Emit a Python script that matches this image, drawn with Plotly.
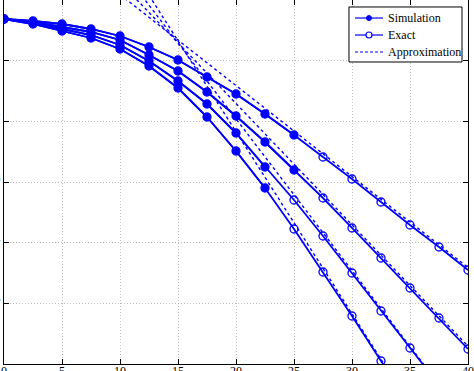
import plotly.graph_objects as go

# SNR grid (dB)
snr = [0, 2.5, 5, 7.5, 10, 12.5, 15, 17.5, 20, 22.5, 25, 27.5, 30, 32.5, 35, 37.5, 40]

# Exact BER curves (open circles)
exact_a = [0.4861, 0.4506, 0.4022, 0.3327, 0.2550, 0.1680, 0.1026, 0.05380, 0.02822, 0.01321,
           0.005954, 0.002584, 0.001121, 0.0004682, 0.0001956, 0.00008488, 0.00003545]
exact_b = [0.4861, 0.4339, 0.3589, 0.2969, 0.2191, 0.1241, 0.06757, 0.03045, 0.01225, 0.004565,
           0.001577, 0.0005449, 0.0001746, 0.00005590, 0.00001791, 0.000005734, 0.000001768]
exact_c = [0.4861, 0.4177, 0.3327, 0.2649, 0.1812, 0.09876, 0.04623, 0.01931, 0.006424, 0.001768,
           0.0005049, 0.0001288, 0.00003164, 0.000007480, 0.000001837, 4.510e-7]
exact_d = [0.4861, 0.4022, 0.3083, 0.2364, 0.1557, 0.08168, 0.03543, 0.01179, 0.003244, 0.0007963,
           0.0001681, 0.00003285, 0.000006187, 0.000001121, 2.111e-7]

# Simulation BER (filled dots), read where drawn
sim_a = [0.4861, 0.4506, 0.4022, 0.3327, 0.2550, 0.1680, 0.1026, 0.05380, 0.02822, 0.01321, 0.005954]
sim_b = [0.4861, 0.4339, 0.3589, 0.2969, 0.2191, 0.1241, 0.06757, 0.03045, 0.01225, 0.004565, 0.001577]
sim_c = [0.4861, 0.4177, 0.3327, 0.2649, 0.1812, 0.09876, 0.04623, 0.01931, 0.006424, 0.001768]
sim_d = [0.4861, 0.4022, 0.3083, 0.2364, 0.1557, 0.08168, 0.03543, 0.01179, 0.003244, 0.0007963]

# High-SNR approximation (dashed), from 10 dB on
snr_apx = [10, 12.5, 15, 17.5, 20, 22.5, 25, 27.5, 30, 32.5, 35, 37.5, 40]
apx_a = [1.230, 0.5188, 0.2188, 0.09226, 0.03890, 0.01641, 0.006918, 0.002917, 0.001230,
         5.188e-4, 2.188e-4, 9.226e-5, 3.890e-5]
apx_b = [1.968, 0.6223, 0.1968, 0.06223, 0.01968, 0.006223, 0.001968, 6.223e-4, 1.968e-4,
         6.223e-5, 1.968e-5, 6.223e-6, 1.968e-6]
apx_c = [3.467, 0.8222, 0.1950, 0.04624, 0.01096, 0.002600, 6.166e-4, 1.462e-4, 3.467e-5,
         8.222e-6, 1.950e-6, 4.624e-7, 1.096e-7]
apx_d = [6.730, 1.197, 0.2128, 0.03784, 0.006730, 0.001197, 2.128e-4, 3.784e-5, 6.730e-6,
         1.197e-6, 2.128e-7]

legend_names = ["Simulation", "Exact", "Approximation"]

BLUE = "#0000ff"
FONT = "Liberation Serif"

fig = go.Figure()

for apx in (apx_a, apx_b, apx_c, apx_d):
    fig.add_trace(go.Scatter(x=snr_apx[:len(apx)], y=apx, mode="lines",
                             line=dict(color=BLUE, width=1.4, dash="3px,3px"),
                             showlegend=False, hoverinfo="skip"))

for ex in (exact_a, exact_b, exact_c, exact_d):
    fig.add_trace(go.Scatter(x=snr[:len(ex)], y=ex, mode="lines+markers",
                             line=dict(color=BLUE, width=1.8),
                             marker=dict(symbol="circle-open", size=8, color=BLUE,
                                         line=dict(width=1.3, color=BLUE)),
                             showlegend=False, hoverinfo="skip"))

for sm in (sim_a, sim_b, sim_c, sim_d):
    fig.add_trace(go.Scatter(x=snr[:len(sm)], y=sm, mode="lines+markers",
                             line=dict(color=BLUE, width=1.8),
                             marker=dict(symbol="circle", size=8, color=BLUE),
                             showlegend=False, hoverinfo="skip"))

axis_common = dict(
    showgrid=True, gridcolor="#bdbdbd", griddash="1px,2px", gridwidth=1,
    showline=True, linecolor="black", linewidth=1, mirror="ticks",
    ticks="inside", ticklen=5, tickcolor="black", tickwidth=1,
    zeroline=False, tickfont=dict(family=FONT, size=12, color="black"),
    automargin=False,
)

fig.update_xaxes(range=[0, 40], tick0=0, dtick=5, ticklabelstandoff=-4, **axis_common)
fig.update_yaxes(type="log", range=[-6, 0], dtick=1, exponentformat="power", **axis_common)

# ---- legend box (drawn in paper coordinates) ----
LX0, LX1, LY0, LY1 = 0.7435, 0.9871, 0.8297, 0.9808
line_x0, line_x1, mark_x, text_x = 0.7565, 0.8168, 0.7866, 0.8232
rows = [0.9505, 0.9038, 0.8571]

shapes = [dict(type="rect", xref="paper", yref="paper", x0=LX0, x1=LX1, y0=LY0, y1=LY1,
               line=dict(color="black", width=1), fillcolor="white", layer="above")]
for i, yy in enumerate(rows):
    shapes.append(dict(type="line", xref="paper", yref="paper", x0=line_x0, x1=line_x1,
                       y0=yy, y1=yy, layer="above",
                       line=dict(color=BLUE, width=1.2,
                                 dash="3px,2px" if i == 2 else "solid")))
# legend markers: filled dot (Simulation) and open circle (Exact)
shapes.append(dict(type="circle", xref="paper", yref="paper", xsizemode="pixel",
                   ysizemode="pixel", xanchor=mark_x, yanchor=rows[0],
                   x0=-2.5, x1=2.5, y0=-2.5, y1=2.5, fillcolor=BLUE,
                   line=dict(color=BLUE, width=1), layer="above"))
shapes.append(dict(type="circle", xref="paper", yref="paper", xsizemode="pixel",
                   ysizemode="pixel", xanchor=mark_x, yanchor=rows[1],
                   x0=-3, x1=3, y0=-3, y1=3, fillcolor="white",
                   line=dict(color=BLUE, width=1.2), layer="above"))

annotations = [dict(x=text_x, y=yy, xref="paper", yref="paper", text=name,
                    showarrow=False, xanchor="left", yanchor="middle",
                    font=dict(family=FONT, size=12, color="black"))
               for name, yy in zip(legend_names, rows)]

fig.update_layout(
    width=474, height=371,
    margin=dict(l=4, r=6, t=0, b=7, pad=0, autoexpand=False),
    plot_bgcolor="white", paper_bgcolor="white",
    font=dict(family=FONT, size=12, color="black"),
    showlegend=False,
    shapes=shapes,
    annotations=annotations,
)

fig.write_html("out.html", config={"displayModeBar": False},
               post_script="document.body.style.margin='0px';document.body.style.overflow='hidden';")
